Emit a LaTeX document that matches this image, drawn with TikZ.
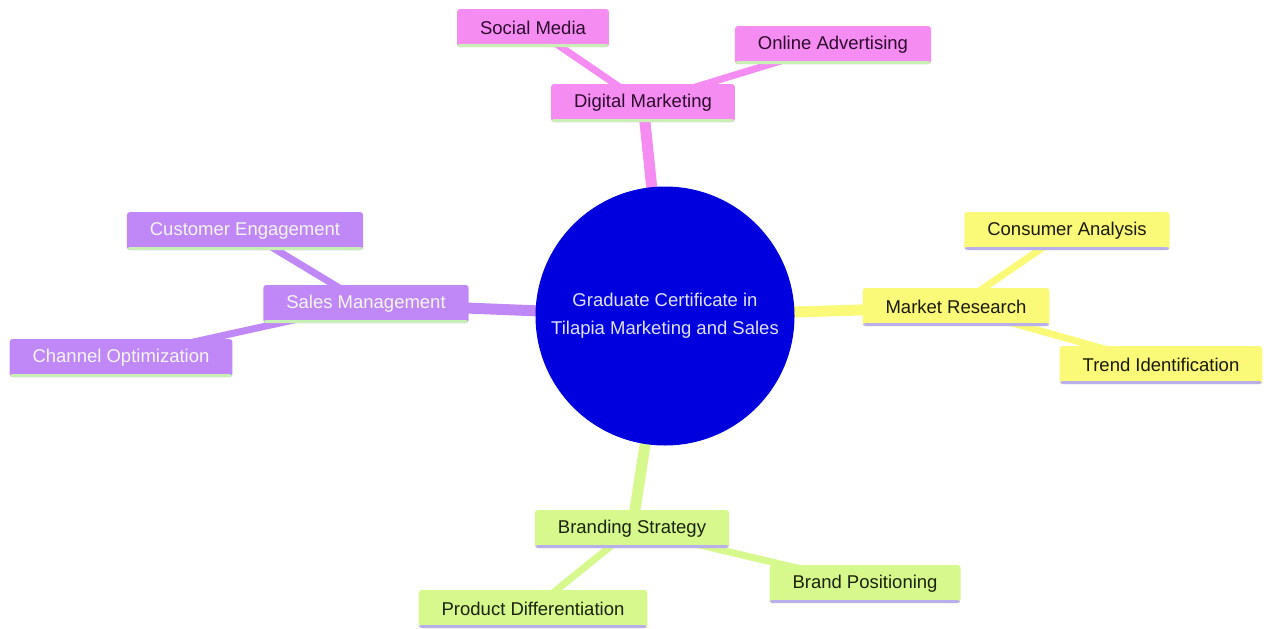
\documentclass[tikz,border=0pt]{standalone}
\usepackage{fontspec}
\setmainfont{Liberation Sans}
\usetikzlibrary{backgrounds}
\definecolor{pinkf}{RGB}{245,140,242}
\definecolor{purplef}{RGB}{192,136,246}
\definecolor{yellowf}{RGB}{250,250,120}
\definecolor{greenf}{RGB}{214,248,140}
\definecolor{pinkt}{RGB}{45,10,45}
\definecolor{purplet}{RGB}{245,245,250}
\definecolor{yellowt}{RGB}{25,25,5}
\definecolor{greent}{RGB}{25,35,5}
\definecolor{lgreenl}{RGB}{200,240,180}
\definecolor{lavl}{RGB}{185,175,235}
\definecolor{rootf}{RGB}{0,0,222}
\definecolor{roott}{RGB}{225,225,255}
\tikzset{
  leaf/.style={rectangle, rounded corners=3pt, inner xsep=23pt, inner ysep=0pt,
    minimum height=38pt, font=\fontsize{18.5}{22}\selectfont},
  underline/.style={path picture={\fill[#1] ([yshift=3pt]path picture bounding box.south west) rectangle (path picture bounding box.south east);}},
  pinkbox/.style={leaf, fill=pinkf, text=pinkt, underline=lgreenl},
  purplebox/.style={leaf, fill=purplef, text=purplet, underline=lgreenl},
  yellowbox/.style={leaf, fill=yellowf, text=yellowt, underline=lavl},
  greenbox/.style={leaf, fill=greenf, text=greent, underline=lavl},
  rootnode/.style={circle, fill=rootf, text=roott, minimum size=259pt, inner sep=0pt,
    align=center, font=\fontsize{18.5}{28}\selectfont},
  mainedge/.style={line width=11pt},
  subedge/.style={line width=7pt}
}
\begin{document}
\begin{tikzpicture}[x=1pt,y=-1pt]
\useasboundingbox (0,0) rectangle (1264,629);
\node[rootnode] (root) at (665,316) {Graduate Certificate in\\Tilapia Marketing and Sales};
\node[pinkbox] (dm) at (643,103) {Digital Marketing};
\node[pinkbox] (sm) at (533,28) {Social Media};
\node[pinkbox] (oa) at (833,45) {Online Advertising};
\node[purplebox] (sales) at (366,304) {Sales Management};
\node[purplebox] (ce) at (245,231) {Customer Engagement};
\node[purplebox] (co) at (121,358) {Channel Optimization};
\node[yellowbox] (mr) at (956,307) {Market Research};
\node[yellowbox] (ca) at (1067,231) {Consumer Analysis};
\node[yellowbox] (ti) at (1161,365) {Trend Identification};
\node[greenbox] (bs) at (632,529) {Branding Strategy};
\node[greenbox] (bp) at (865,584) {Brand Positioning};
\node[greenbox] (pd) at (533,609) {Product Differentiation};
\begin{pgfonlayer}{background}
\draw[mainedge, pinkf] (root.center) -- (dm.center);
\draw[subedge, pinkf] (dm.center) -- (sm.center);
\draw[subedge, pinkf] (dm.center) -- (oa.center);
\draw[mainedge, purplef] (root.center) -- (sales.center);
\draw[subedge, purplef] (sales.center) -- (ce.center);
\draw[subedge, purplef] (sales.center) -- (co.center);
\draw[mainedge, yellowf] (root.center) -- (mr.center);
\draw[subedge, yellowf] (mr.center) -- (ca.center);
\draw[subedge, yellowf] (mr.center) -- (ti.center);
\draw[mainedge, greenf] (root.center) -- (bs.center);
\draw[subedge, greenf] (bs.center) -- (bp.center);
\draw[subedge, greenf] (bs.center) -- (pd.center);
\end{pgfonlayer}
\end{tikzpicture}
\end{document}
